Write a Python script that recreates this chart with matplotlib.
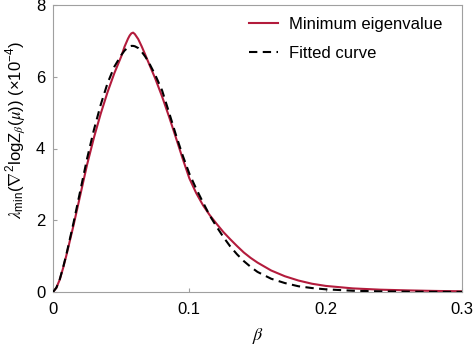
import matplotlib
matplotlib.use("Agg")
import matplotlib.pyplot as plt

plt.rcParams['font.family'] = ['Liberation Sans', 'DejaVu Sans']
plt.rcParams['mathtext.fontset'] = 'custom'
plt.rcParams['mathtext.rm'] = 'Liberation Sans'
plt.rcParams['mathtext.it'] = 'STIXGeneral:italic'
plt.rcParams['mathtext.bf'] = 'Liberation Sans:bold'

# beta values and curves (units of 1e-4)
beta = [0, 0.0025, 0.005, 0.0075, 0.01, 0.015, 0.02, 0.025, 0.03, 0.035, 0.04,
        0.045, 0.05, 0.0525, 0.055, 0.05625, 0.0575, 0.05875, 0.06, 0.0625,
        0.065, 0.0675, 0.07,
        0.075, 0.08, 0.085, 0.09, 0.095, 0.1, 0.105, 0.11, 0.115, 0.12, 0.125,
        0.13, 0.135, 0.14, 0.145, 0.15, 0.16, 0.17, 0.18, 0.19, 0.2, 0.22,
        0.24, 0.26, 0.28, 0.3]
min_eig = [0, 0.12, 0.35, 0.68, 1.05, 1.85, 2.7, 3.55, 4.3, 4.97, 5.57,
           6.1, 6.56, 6.84, 7.06, 7.15, 7.21, 7.23, 7.19, 7.05,
           6.85, 6.63, 6.4,
           5.95, 5.45, 4.9, 4.32, 3.73, 3.17, 2.76, 2.42, 2.14, 1.9, 1.67,
           1.47, 1.28, 1.1, 0.95, 0.82, 0.6, 0.44, 0.32, 0.23, 0.17, 0.1,
           0.065, 0.045, 0.03, 0.02]
fitted = [0, 0.12, 0.36, 0.7, 1.08, 1.92, 2.82, 3.72, 4.52, 5.22, 5.82,
          6.28, 6.6, 6.73, 6.82, 6.85, 6.86, 6.86, 6.85, 6.8,
          6.7, 6.57, 6.42,
          6.05, 5.62, 5.02, 4.4, 3.82, 3.3, 2.88, 2.5, 2.13, 1.82, 1.53,
          1.27, 1.05, 0.86, 0.7, 0.56, 0.37, 0.25, 0.16, 0.11, 0.075, 0.035,
          0.018, 0.01, 0.005, 0.003]

xticks = [0, 0.1, 0.2, 0.3]
xticklabels = ['0', '0.1', '0.2', '0.3']
yticks = [0, 2, 4, 6, 8]
yticklabels = ['0', '2', '4', '6', '8']

fig = plt.figure(figsize=(4.74, 3.46), dpi=100)
ax = fig.add_axes([53/474, 1-292/346, 409/474, 287/346])

ax.plot(beta, min_eig, color='#b31b3c', lw=1.5, label='Minimum eigenvalue', zorder=2)
ax.plot(beta, fitted, color='black', lw=1.5, dashes=(4, 2.6), label='Fitted curve', zorder=3)

ax.set_xlim(0, 0.3)
ax.set_ylim(0, 8)
ax.set_xticks(xticks)
ax.set_xticklabels(xticklabels)
ax.set_yticks(yticks)
ax.set_yticklabels(yticklabels)
for s in ax.spines.values():
    s.set_color('#a0a0a0')
    s.set_linewidth(0.8)
ax.tick_params(direction='in', length=3, width=0.8, color='#a0a0a0',
               labelsize=12, labelcolor='black')
ax.tick_params(axis='x', pad=7)
ax.tick_params(axis='y', pad=5.5)

ax.set_xlabel(r'$\beta$', fontsize=13, va='center')
ax.xaxis.set_label_coords(0.5, -(336-292)/287)
ax.set_ylabel(r'$\lambda_{\mathrm{min}}(\nabla^2\mathrm{logZ}_{\beta}(\mu))$ (×10$^{-4}$)',
              fontsize=12, va='center')
ax.yaxis.set_label_coords((16-53)/409, (292-130)/287)

leg = ax.legend(loc='upper left', bbox_to_anchor=((249-53)/409, 0.958),
                frameon=False, fontsize=12, borderpad=0, borderaxespad=0,
                handlelength=1.75, handletextpad=0.65, labelspacing=0.85)

fig.savefig('out.png', dpi=100)
